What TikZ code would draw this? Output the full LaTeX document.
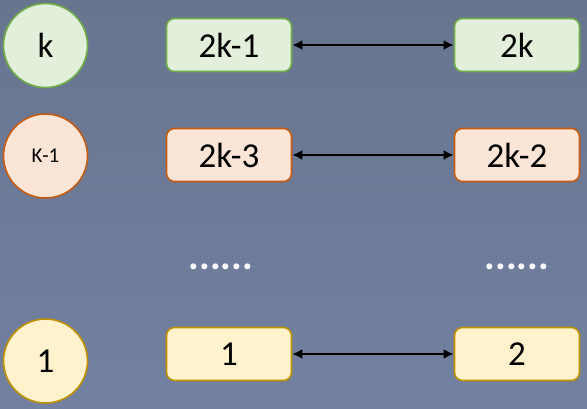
\documentclass[tikz,border=0pt]{standalone}
\usepackage{fontspec}
\setmainfont{Carlito}
\usetikzlibrary{arrows.meta}

\definecolor{bgtop}{RGB}{104,117,143}
\definecolor{bgbot}{RGB}{114,129,161}
\definecolor{vertF}{RGB}{226,239,218}
\definecolor{vertD}{RGB}{112,173,71}
\definecolor{orangeF}{RGB}{251,229,214}
\definecolor{orangeD}{RGB}{197,90,17}
\definecolor{jauneF}{RGB}{255,242,204}
\definecolor{jauneD}{RGB}{191,144,0}

\begin{document}
\begin{tikzpicture}[x=1pt, y=-1pt, line join=round,
    niveau/.style={circle, draw=#1D, fill=#1F, line width=1.6pt, minimum size=84pt, inner sep=0pt},
    case/.style={rectangle, rounded corners=8pt, draw=#1D, fill=#1F, line width=1.6pt, minimum width=125pt, minimum height=53pt, inner sep=0pt},
    lien/.style={{Latex[length=10pt,width=10pt]}-{Latex[length=10pt,width=10pt]}, line width=2pt, black},
    gros/.style={font=\fontsize{35}{40}\selectfont}]

    % fond
    \fill[top color=bgtop, bottom color=bgbot] (0,0) rectangle (587,408);

    % Les niveaux et leurs paires de cases
    \foreach \n/\y/\yc/\c/\t/\a/\b in {k/45/45.5/vert/k/2k-1/2k, km/155/156/orange/{\fontsize{21}{24}\selectfont K-1}/2k-3/2k-2, un/354/361/jaune/1/1/2} {
        \node[niveau=\c, gros] (N\n) at (45.5,\yc) {\t};
        \node[case=\c, gros] (A\n) at (229,\y) {\a};
        \node[case=\c, gros] (B\n) at (517,\y) {\b};
        \draw[lien] (A\n) -- (B\n);
    }

    % Points de suspension
    \node[font=\fontsize{40}{44}\selectfont\bfseries, text=white] (dotsA) at (221,267) {......};
    \node[font=\fontsize{40}{44}\selectfont\bfseries, text=white] (dotsB) at (517,267) {......};

\end{tikzpicture}
\end{document}
